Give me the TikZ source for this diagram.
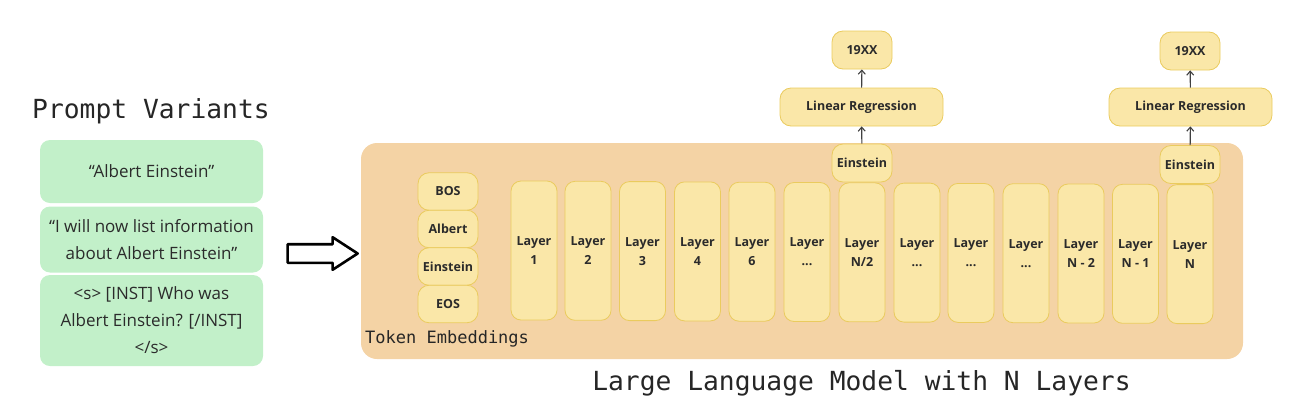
\documentclass[tikz,border=0pt]{standalone}
\usepackage{fontspec}
\setmainfont{Open Sans}
\newfontfamily\codefont{DejaVu Sans Mono}
\usetikzlibrary{shapes.arrows,arrows.meta}
\definecolor{promptgreen}{HTML}{C2F0C9}
\definecolor{modelorange}{HTML}{F4D3A5}
\definecolor{unityellow}{HTML}{FAE7A8}
\definecolor{unitedge}{HTML}{EACB5E}
\definecolor{inkgray}{HTML}{2B2B2B}

\begin{document}
\begin{tikzpicture}[x=1pt,y=-1pt,
  prompt/.style={fill=promptgreen,rounded corners=10pt,minimum width=223pt,inner sep=0pt,align=center,text=inkgray,font=\fontsize{17}{27}\selectfont},
  unit/.style={fill=unityellow,draw=unitedge,line width=.8pt,rounded corners=11pt,inner sep=0pt,align=center,text=inkgray,font=\bfseries\fontsize{12.5}{19}\selectfont},
  token/.style={unit,minimum width=60pt,minimum height=37.5pt},
  layer/.style={unit,minimum width=46pt,minimum height=139pt,rounded corners=10pt},
  probe/.style={draw=inkgray!90,line width=1.1pt,-{Straight Barb[length=4pt,width=7pt]}},
  caption/.style={font=\codefont\fontsize{26.3}{30}\selectfont,text=black!85,anchor=base}]
\useasboundingbox (0,0) rectangle (1292,418);
% prompts
\node[caption] (ptitle) at (151,118) {Prompt Variants};
\node[prompt,minimum height=63pt] (p1) at (151.5,171.5) {“Albert Einstein”};
\node[prompt,minimum height=66pt] (p2) at (151.5,239.5) {“I will now list information\\about Albert Einstein”};
\node[prompt,minimum height=91pt] (p3) at (151.5,320.5) {<s> [INST] Who was\\Albert Einstein? [/INST]\\</s>};
\node[single arrow,draw=black,fill=white,line width=2.6pt,line join=round,minimum height=70pt,inner sep=8pt,single arrow head extend=7pt,single arrow tip angle=66] (feed) at (315.5,253.5) {};
% model
\node[fill=modelorange,rounded corners=16pt,minimum width=882pt,minimum height=216pt] (llm) at (802,251) {};
\node[font=\codefont\fontsize{17}{20}\selectfont,text=black!85,anchor=base west,inner sep=0pt] (tok) at (365,343) {Token Embeddings};
\node[caption] (mtitle) at (861.5,390) {Large Language Model with N Layers};
\node[token] (bos) at (448,191.5) {BOS};
\node[token] (albert) at (448,229) {Albert};
\node[token] (einst) at (448,266.5) {Einstein};
\node[token] (eos) at (448,304) {EOS};
\node[layer] (l1) at (534,250.5) {Layer\\1};
\node[layer] (l2) at (588,250.8) {Layer\\2};
\node[layer] (l3) at (642.5,251.1) {Layer\\3};
\node[layer] (l4) at (697.5,251.4) {Layer\\4};
\node[layer] (l6) at (752,251.7) {Layer\\6};
\node[layer] (la) at (807,252) {Layer\\...};
\node[layer] (lhalf) at (862,252.3) {Layer\\N/2};
\node[layer] (lb) at (917,252.6) {Layer\\...};
\node[layer] (lc) at (971,252.9) {Layer\\...};
\node[layer] (ld) at (1026,253.2) {Layer\\...};
\node[layer] (lm2) at (1081,253.5) {Layer\\N - 2};
\node[layer] (lm1) at (1135.5,253.8) {Layer\\N - 1};
\node[layer] (ln) at (1190,254.1) {Layer\\N};
% probes
\node[token,minimum height=38pt] (emid) at (862,163) {Einstein};
\node[token,minimum width=163pt,minimum height=38pt] (rmid) at (861.5,107) {Linear Regression};
\node[token,minimum height=38pt] (ymid) at (862,50) {19XX};
\node[token,minimum height=38pt] (eend) at (1190,164.5) {Einstein};
\node[token,minimum width=163pt,minimum height=38pt] (rend) at (1190.5,107) {Linear Regression};
\node[token,minimum height=38pt] (yend) at (1190,51) {19XX};
\draw[probe] (emid) -- (rmid);
\draw[probe] (rmid) -- (ymid);
\draw[probe] (eend) -- (rend);
\draw[probe] (rend) -- (yend);
\end{tikzpicture}
\end{document}
